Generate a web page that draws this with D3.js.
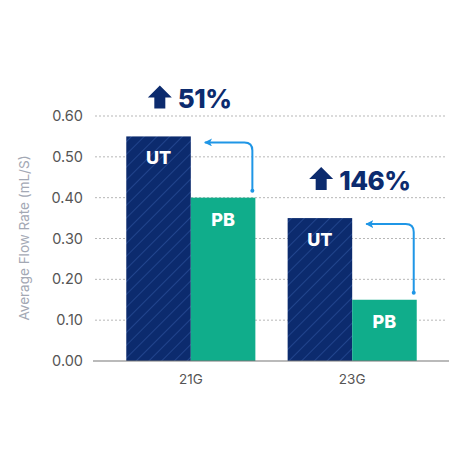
<!DOCTYPE html>
<html><head><meta charset="utf-8">
<script src="https://cdn.jsdelivr.net/npm/d3@7/dist/d3.min.js"></script>
<style>html,body{margin:0;padding:0;background:#fff}svg{display:block}</style>
</head><body>
<svg id="c" width="474" height="474"></svg>
<script>
const groups = ["21G", "23G"];
const series = ["UT", "PB"];
const utValues = [0.55, 0.35];
const pbValues = [0.40, 0.15];
const changeLabels = ["51%", "146%"];
const yTicks = [0, 0.1, 0.2, 0.3, 0.4, 0.5, 0.6];
const yTitle = "Average Flow Rate (mL/S)";

const navy = "#0c2b6e", green = "#10ad8b", blue = "#1f96e6";
const svg = d3.select("#c");
const font = "Inter, 'Noto Sans', sans-serif";

const y = d3.scaleLinear().domain([0, 0.6]).range([361, 116]);
const x = d3.scaleBand().domain(groups).range([94, 449]).paddingInner(0.2).paddingOuter(0.2);
const xs = d3.scaleBand().domain(series).range([0, x.bandwidth()]);

const defs = svg.append("defs");
const pat = defs.append("pattern").attr("id", "hatch").attr("patternUnits", "userSpaceOnUse")
  .attr("width", 9).attr("height", 9).attr("patternTransform", "rotate(45)");
pat.append("rect").attr("width", 9).attr("height", 9).attr("fill", navy);
pat.append("line").attr("x1", 0).attr("y1", 0).attr("x2", 0).attr("y2", 9)
  .attr("stroke", "#3660ad").attr("stroke-width", 1.2).attr("opacity", 0.8);

const mk = defs.append("marker").attr("id", "ah").attr("viewBox", "0 0 10 10")
  .attr("refX", 9).attr("refY", 5).attr("markerWidth", 4).attr("markerHeight", 4)
  .attr("orient", "auto-start-reverse").attr("markerUnits", "strokeWidth");
mk.append("path").attr("d", "M0,0 L10,5 L0,10 L2.5,5 Z").attr("fill", blue);

// gridlines
svg.append("g").selectAll("line").data(yTicks.filter(d => d > 0)).join("line")
  .attr("x1", 95).attr("x2", 447).attr("y1", d => y(d)).attr("y2", d => y(d))
  .attr("stroke", "#a5a5a5").attr("stroke-width", 0.8).attr("stroke-dasharray", "2,2");

// y axis labels
const yAxis = d3.axisLeft(y).tickValues(yTicks).tickFormat(d3.format(".2f")).tickSize(0).tickPadding(0);
const ya = svg.append("g").attr("transform", "translate(83,0)").call(yAxis);
ya.select(".domain").remove();
ya.selectAll("text").attr("font-family", font).attr("font-size", 14.5).attr("fill", "#555");

svg.append("text").attr("transform", "translate(29,238) rotate(-90)").attr("text-anchor", "middle")
  .attr("font-family", font).attr("font-size", 13.5).attr("fill", "#a3a8b4").text(yTitle);

// bars
const g = svg.append("g");
groups.forEach((grp, i) => {
  const gx = x(grp);
  const vals = [utValues[i], pbValues[i]];
  series.forEach((s, j) => {
    const bx = gx + xs(s);
    g.append("rect").attr("x", bx).attr("y", y(vals[j])).attr("width", xs.bandwidth())
      .attr("height", y(0) - y(vals[j])).attr("fill", j === 0 ? "url(#hatch)" : green);
    g.append("text").attr("x", bx + xs.bandwidth() / 2).attr("y", y(vals[j]) + 28)
      .attr("text-anchor", "middle").attr("font-family", font).attr("font-weight", 800)
      .attr("font-size", 18).attr("fill", "#fff").text(s);
  });
  // connector arrow
  const utR = gx + xs("UT") + xs.bandwidth();
  const pbR = gx + xs("PB") + xs.bandwidth();
  const ax = pbR - 3, ay0 = y(pbValues[i]) - 7, ay1 = y(utValues[i]) + 6, tip = utR + 14, r = 8;
  svg.append("path").attr("d", `M${ax},${ay0} L${ax},${ay1 + r} Q${ax},${ay1} ${ax - r},${ay1} L${tip},${ay1}`)
    .attr("fill", "none").attr("stroke", blue).attr("stroke-width", 2).attr("marker-end", "url(#ah)");
  svg.append("circle").attr("cx", ax).attr("cy", ay0).attr("r", 2).attr("fill", blue);

  // change label
  const cx = gx + x.bandwidth() / 2;
  const base = y(utValues[i]) - 28;
  const sx = cx - 43;
  svg.append("text").attr("x", sx + 30).attr("y", base).attr("font-family", font)
    .attr("font-weight", 800).attr("font-size", 26).attr("fill", navy).attr("letter-spacing", -0.5)
    .text(changeLabels[i]);
  const top = base - 23, bot = base;
  svg.append("path").attr("d",
    `M${sx + 12},${top} L${sx + 24},${top + 12} L${sx + 17.5},${top + 12} L${sx + 17.5},${bot} L${sx + 6.5},${bot} L${sx + 6.5},${top + 12} L${sx},${top + 12} Z`)
    .attr("fill", navy);
});

// baseline
svg.append("line").attr("x1", 93).attr("x2", 449).attr("y1", y(0)).attr("y2", y(0))
  .attr("stroke", "#777").attr("stroke-width", 1.2);

// x labels
const xAxis = d3.axisBottom(x).tickSize(0).tickPadding(0);
const xa = svg.append("g").attr("transform", `translate(0,${y(0) + 23})`).call(xAxis);
xa.select(".domain").remove();
xa.selectAll("text").attr("font-family", font).attr("font-size", 13.5).attr("fill", "#555").attr("dy", 0);
</script>
</body></html>
